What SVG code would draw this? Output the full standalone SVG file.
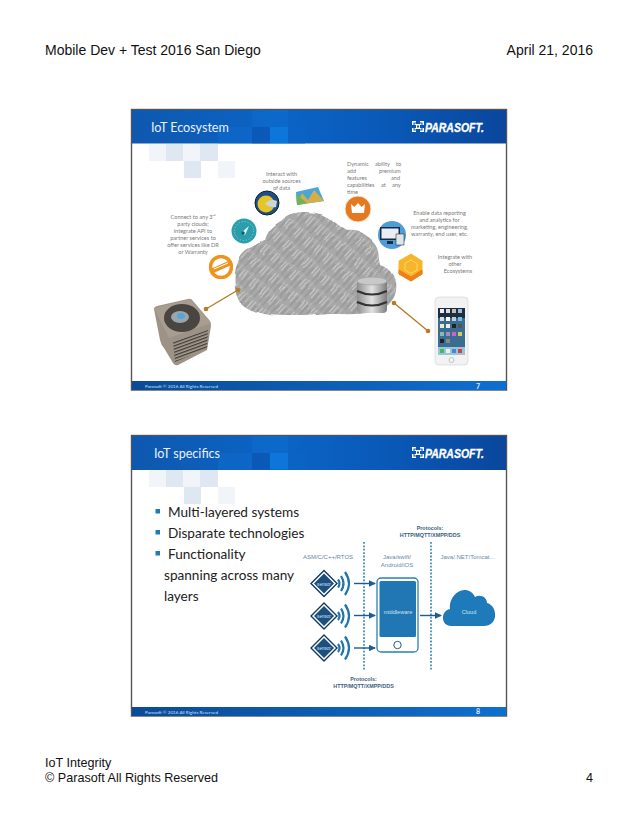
<svg xmlns="http://www.w3.org/2000/svg" width="638" height="826" viewBox="0 0 638 826">
<style>
.page{font-family:"Liberation Sans",Arial,sans-serif;font-size:14px;fill:#111}
.page2{font-family:"Liberation Sans",Arial,sans-serif;font-size:12.6px;fill:#111}
.title{font-family:Lato,sans-serif;font-size:12.6px;fill:#e8f0fa}
.logo{font-family:"Liberation Sans",sans-serif;font-size:13px;font-weight:bold;font-style:italic;fill:#fff;stroke:#fff;stroke-width:.35}
.foot{font-family:Lato,sans-serif;font-size:4.6px;fill:#cfe0f5}
.num{font-family:Lato,sans-serif;font-size:7px;font-weight:bold;fill:#dce9f8;text-anchor:middle}
.small{font-family:Lato,sans-serif;font-size:5.6px;fill:#7a7a7a}
.m{text-anchor:middle}
.bullet{font-family:Lato,sans-serif;font-size:13.6px;fill:#222}
.lab{font-family:"Liberation Sans",sans-serif;font-size:6px;fill:#6a88a6}
.proto{font-family:"Liberation Sans",sans-serif;font-size:5.4px;font-weight:bold;fill:#3b6080}
.wh{font-family:"Liberation Sans",sans-serif;font-size:5.6px;fill:#cfe3f2;text-anchor:middle}
.frame{fill:#fff;stroke:#555;stroke-width:1.4}
.lnk{stroke:#b87a24;stroke-width:1.4;fill:none}
.dot{fill:#b87a24}
.dash{stroke:#2b7fb8;stroke-width:1.6;stroke-dasharray:1.8 1.6;fill:none}
.arr{stroke:#1f5c8c;stroke-width:1.4;fill:none;marker-end:url(#ah)}
.wave{stroke:#1f74ab;stroke-width:2.2;fill:none}
.sq1{fill:#f1f5fa}.sq2{fill:#dfe8f2}
.lg{fill:#fff}
</style>
<defs>
<linearGradient id="hdr2" x1="0" x2="1" y1="0" y2="0"><stop offset="0" stop-color="#0f58ae"/><stop offset=".4" stop-color="#0b64c6"/><stop offset=".7" stop-color="#0a58b6"/><stop offset="1" stop-color="#0a469c"/></linearGradient>
<linearGradient id="ft" x1="0" x2="1"><stop offset="0" stop-color="#0b4a96"/><stop offset="1" stop-color="#0e6fd0"/></linearGradient>
<linearGradient id="can" x1="0" x2="1"><stop offset="0" stop-color="#8f8f8f"/><stop offset=".5" stop-color="#e2e2e2"/><stop offset="1" stop-color="#7d7d7d"/></linearGradient>
<pattern id="hatch" width="13" height="17" patternUnits="userSpaceOnUse" patternTransform="rotate(42)">
<rect width="13" height="17" fill="#a8a8a8"/><rect x="1" y="1" width="1.100" height="12" fill="#c6c6c6"/><rect x="3.500" y="4" width="1" height="13" fill="#8e8e8e"/><rect x="6" width="1" height="9" fill="#bdbdbd"/><rect x="8.500" y="6" width="1.200" height="11" fill="#949494"/><rect x="11" y="2" width=".9" height="10" fill="#cfcfcf"/>
</pattern>
<pattern id="fins" width="4" height="3" patternUnits="userSpaceOnUse" patternTransform="rotate(-20)"><rect width="4" height="3" fill="#a89e92"/><rect width="4" height="1.300" fill="#3f3a35"/></pattern>
<marker id="ah" markerWidth="7" markerHeight="6.400" refX="6" refY="3.200" orient="auto" markerUnits="userSpaceOnUse"><path d="M0 0L7 3.200L0 6.400z" fill="#1f5c8c"/></marker>
<filter id="soft" x="-5%" y="-5%" width="110%" height="110%"><feGaussianBlur stdDeviation=".45"/></filter>
<filter id="sketch" x="-5%" y="-5%" width="110%" height="110%"><feTurbulence type="fractalNoise" baseFrequency=".03" numOctaves="2" seed="4" result="n"/><feDisplacementMap in="SourceGraphic" in2="n" scale="4" xChannelSelector="R" yChannelSelector="G"/><feGaussianBlur stdDeviation=".55"/></filter>
<g id="sensor"><path d="M0-13L13 0L0 13L-13 0z" fill="#fff" stroke="#12395f" stroke-width="1.400"/><path d="M0-10L10 0L0 10L-10 0z" fill="#1c4f7f"/><text class="wh" y="2" style="font-size:4.6px">sensor</text>
<path class="wave" d="M14-4Q17 0 14 4M17-7.500Q22 0 17 7.500M21-11.500Q29 0 21 11.500"/></g>
<g id="hdrdeco"><rect x="218" y="17" width="34" height="16.500" fill="#0e6fd2" opacity=".4"/><rect x="252" y="17" width="18" height="16.500" fill="#0a58b4" opacity=".8"/><rect x="270" y="17" width="18" height="16.500" fill="#0d7ade" opacity=".8"/><rect x="288" y="17" width="17" height="16.500" fill="#0c64c4" opacity=".7"/><rect x="252" width="36" height="17" fill="#0e6ed0" opacity=".45"/></g>
<g id="squares"><rect class="sq1" x="149" y="0" width="17" height="17"/><rect class="sq2" x="166" y="0" width="17" height="17"/><rect class="sq1" x="183" y="0" width="17" height="17"/><rect class="sq2" x="200" y="0" width="18" height="17"/><rect class="sq2" x="184" y="17" width="17" height="17"/><rect class="sq1" x="218" y="17" width="17" height="17"/></g>
<g id="logomark"><path class="lg" d="M0 0H4V1.500H1.500V4H0zM8 0H12V4H10.500V1.500H8zM0 7H1.500V9.500H4V11H0zM10.500 7H12V11H8V9.500H10.500z"/><path class="lg" d="M4 3H8V8H4zM2.500 2.500H4V4H2.500zM8 2.500H9.500V4H8zM2.500 7H4V8.500H2.500zM8 7H9.500V8.500H8z"/><rect x="5" y="4.500" width="2" height="2" fill="#0a52ac"/></g>
</defs>
<rect width="638" height="826" fill="#fff"/>
<text class="page" x="45" y="55">Mobile Dev + Test 2016 San Diego</text>
<text class="page" x="593" y="55" text-anchor="end">April 21, 2016</text>
<text class="page2" x="45" y="767">IoT Integrity</text>
<text class="page2" x="45" y="782">© Parasoft All Rights Reserved</text>
<text class="page2" x="593" y="782" text-anchor="end">4</text>

<g id="slide7">
<rect class="frame" x="131.500" y="109.500" width="375" height="280.500"/>
<use href="#squares" y="144"/>
<rect x="132" y="110" width="374" height="33.500" fill="url(#hdr2)"/>
<use href="#hdrdeco" y="110"/>
<text class="title" x="151" y="132">IoT Ecosystem</text>
<use href="#logomark" x="412" y="121"/>
<text class="logo" x="425" y="131.500" textLength="59" lengthAdjust="spacingAndGlyphs">PARASOFT.</text>
<rect x="132" y="381" width="374" height="9" fill="url(#ft)"/>
<text class="foot" x="145" y="387.500">Parasoft © 2016 All Rights Reserved</text>
<text class="num" x="478" y="388.500">7</text>
</g>
<g id="cloud7"><path filter="url(#sketch)" d="M240 302C233 293 233 272 238 262C240 254 246 249 252 247C256 244 262 242 265 240C268 230 274 225 281 221C288 214 296 212 304 212C314 212 323 214 330 218C337 224 342 228 347 230C354 229 360 231 364 234C372 239 377 244 379 251C380 257 380 261 381 265C387 267 391 270 393 274C396 280 397 286 396 291C394 302 385 310 372 312C360 315 345 314 330 314C310 316 288 317 270 315C258 313 246 309 240 302z" fill="url(#hatch)"/></g>
<g id="db"><g filter="url(#soft)"><rect x="357" y="280" width="30" height="33" rx="4" fill="url(#can)"/><ellipse cx="372" cy="281" rx="15" ry="4" fill="#c8c8c8" stroke="#999" stroke-width=".6"/><path d="M357 291Q372 298 387 291M357 302Q372 309 387 302" stroke="#333" stroke-width="2.200" fill="none"/></g></g>
<g id="connectors7">
<line class="lnk" x1="238" y1="290" x2="206" y2="309"/><circle class="dot" cx="238" cy="290" r="2.300"/><circle class="dot" cx="206" cy="309" r="2.300"/>
<line class="lnk" x1="394" y1="303" x2="428" y2="331"/><circle class="dot" cx="394" cy="303" r="2.300"/><circle class="dot" cx="428" cy="331" r="2.300"/>
</g>
<g id="ac-unit" filter="url(#soft)"><path d="M154 309Q154 307 157 306L188 299Q191 298 193 301L210 321Q211 323 211 326L207 350L178 365Q175 366 173 363L164 348Q161 345 160 340z" fill="#9d9286"/><path d="M154 308L190 299L211 323L169 338z" fill="#a89d91"/><path d="M173 342L208 330L207 348L175 362z" fill="url(#fins)"/><ellipse cx="182" cy="318" rx="18" ry="14" fill="#4a443f"/><ellipse cx="180" cy="317" rx="9" ry="6" fill="#9aa6ad"/><ellipse cx="181" cy="316" rx="4" ry="3" fill="#55a6d8"/></g>
<g id="phone" filter="url(#soft)"><rect x="435" y="297" width="33" height="68" rx="4" fill="#f2f2f2" stroke="#d0d0d0" stroke-width=".6"/><rect x="438" y="308" width="27" height="47" fill="#3a6c92"/><rect x="438" y="308" width="27" height="10" fill="#1f2f40"/><rect x="440" y="309" width="4" height="4" fill="#eee"/><rect x="446" y="309" width="4" height="4" fill="#ddd"/><rect x="452" y="309" width="4" height="4" fill="#cba"/><rect x="458" y="309" width="4" height="4" fill="#9bd"/><rect x="440" y="317" width="4" height="4" fill="#ddd"/><rect x="446" y="317" width="4" height="4" fill="#fff"/><rect x="452" y="317" width="4" height="4" fill="#bcd"/><rect x="458" y="317" width="4" height="4" fill="#7bd"/><rect x="440" y="324" width="4" height="4" fill="#eec"/><rect x="446" y="324" width="4" height="4" fill="#eee"/><rect x="452" y="324" width="4" height="4" fill="#222"/><rect x="458" y="324" width="4" height="4" fill="#555"/><rect x="440" y="332" width="4" height="4" fill="#8ba"/><rect x="446" y="332" width="4" height="4" fill="#a8c"/><rect x="452" y="332" width="4" height="4" fill="#c6b"/><rect x="458" y="332" width="4" height="4" fill="#cc6"/><rect x="440" y="339" width="4" height="4" fill="#222"/><rect x="446" y="339" width="4" height="4" fill="#888"/><rect x="438" y="347" width="27" height="8" fill="#9cc4d8"/><rect x="440" y="349" width="4" height="4" fill="#4b5"/><rect x="446" y="349" width="4" height="4" fill="#eee"/><rect x="452" y="349" width="4" height="4" fill="#48c"/><rect x="458" y="349" width="4" height="4" fill="#c44"/><circle cx="451.500" cy="360" r="2.500" fill="none" stroke="#aaa" stroke-width=".6"/></g>
<g id="icon-weather" filter="url(#soft)"><circle cx="267" cy="203" r="12" fill="#1d4f86" stroke="#122" stroke-width="1"/><circle cx="266" cy="204" r="8.500" fill="#e8c528"/><path d="M265 204Q270 198 277 201L276 207Q270 208 265 204z" fill="#c9d6df"/></g>
<g id="icon-map" filter="url(#soft)"><path d="M296 192L318 187L324 201L297 205z" fill="#4aa6d6"/><path d="M297 205L302 193L308 200L314 190L324 201z" fill="#d6ae48"/><path d="M296 194L297 205L307 203z" fill="#71b35a"/></g>
<g id="icon-crown"><circle cx="358" cy="209" r="13" fill="#e4791f" stroke="#f3e4d5" stroke-width="1"/><path d="M351 204L354.500 207L358 203L361.500 207L365 204L364 213H352z" fill="#fff"/></g>
<g id="icon-report" filter="url(#soft)"><circle cx="392" cy="235" r="14" fill="#4e9dd6"/><rect x="380" y="227" width="20" height="13" fill="#1c2a44"/><rect x="381.500" y="228.500" width="17" height="10" fill="#e8eef4"/><rect x="396" y="234" width="8" height="11" fill="#dde4ea" stroke="#334" stroke-width=".6"/><rect x="387" y="241" width="6" height="3" fill="#1c2a44"/></g>
<g id="icon-compass" filter="url(#soft)"><circle cx="244" cy="231" r="12.500" fill="#2a9fab"/><circle cx="244" cy="231" r="9.500" fill="none" stroke="#bfe5e8" stroke-width=".7" stroke-dasharray="1 2"/><path d="M241 233L249 226L245 235z" fill="#e6f5f6"/><circle cx="243" cy="233" r="1.800" fill="#0f5a66"/></g>
<g id="icon-orange-ring" filter="url(#soft)"><circle cx="221" cy="267" r="10.500" fill="none" stroke="#ef931c" stroke-width="3.500"/><path d="M212 271L230 263" stroke="#ef931c" stroke-width="5"/><path d="M214 269L228 263" stroke="#fff" stroke-width="1"/></g>
<g id="icon-cube" filter="url(#soft)"><path d="M411 254L422 261V274L411 281L399 274V261z" fill="#f7b62a" stroke="#f7b62a" stroke-linejoin="round"/><path d="M399 270L411 277L422 270V274L411 281L399 274z" fill="#ee7f1a" stroke="#ee7f1a" stroke-linejoin="round"/><path d="M411 260L417 263.500V270L411 273.500L405 270V263.500z" fill="none" stroke="#fde08a" stroke-width=".7"/></g>
<g id="labels7">
<text class="small m" x="281.500" y="176">Interact with</text><text class="small m" x="281.500" y="183">outside sources</text><text class="small m" x="281.500" y="190">of data</text>
<text class="small" x="347" y="166">Dynamic</text><text class="small" x="375" y="166">ability</text><text class="small" x="396" y="166">to</text>
<text class="small" x="347" y="173">add</text><text class="small" x="379" y="173">premium</text>
<text class="small" x="347" y="180">features</text><text class="small" x="391" y="180">and</text>
<text class="small" x="347" y="187">capabilities</text><text class="small" x="381" y="187">at</text><text class="small" x="392" y="187">any</text>
<text class="small" x="347" y="194">time</text>
<text class="small m" x="193" y="219">Connect to any 3ʳᵈ</text><text class="small m" x="193" y="226">party clouds;</text><text class="small m" x="193" y="233">integrate API to</text><text class="small m" x="193" y="240">partner services to</text><text class="small m" x="193" y="247">offer services like DR</text><text class="small m" x="193" y="254">or Warranty</text>
<text class="small m" x="439.500" y="215">Enable data reporting</text><text class="small m" x="439.500" y="222">and analytics for</text><text class="small m" x="439.500" y="229">marketing, engineering,</text><text class="small m" x="439.500" y="236">warranty, end user, etc.</text>
<text class="small m" x="455" y="259">Integrate with</text><text class="small m" x="455" y="266">other</text><text class="small m" x="458" y="273">Ecosystems</text>
</g>

<g id="slide8">
<rect class="frame" x="131.500" y="435.500" width="375" height="280.500"/>
<use href="#squares" y="470"/>
<rect x="132" y="436" width="374" height="34" fill="url(#hdr2)"/>
<use href="#hdrdeco" y="436"/>
<text class="title" x="154" y="458">IoT specifics</text>
<use href="#logomark" x="412" y="447"/>
<text class="logo" x="425" y="457.500" textLength="59" lengthAdjust="spacingAndGlyphs">PARASOFT.</text>
<rect x="132" y="707" width="374" height="9" fill="url(#ft)"/>
<text class="foot" x="145" y="713.500">Parasoft © 2016 All Rights Reserved</text>
<text class="num" x="478" y="714">8</text>
<rect x="155.500" y="509" width="4.500" height="4.500" fill="#1f7ab8"/><rect x="155.500" y="530" width="4.500" height="4.500" fill="#1f7ab8"/><rect x="155.500" y="551" width="4.500" height="4.500" fill="#1f7ab8"/>
<text class="bullet" x="168" y="517">Multi-layered systems</text>
<text class="bullet" x="168" y="538">Disparate technologies</text>
<text class="bullet" x="168" y="559">Functionality</text>
<text class="bullet" x="164" y="580">spanning across many</text>
<text class="bullet" x="164" y="601">layers</text>
</g>
<g id="proto-top"><text class="proto m" x="430" y="530">Protocols:</text><text class="proto m" x="430" y="537">HTTP/MQTT/XMPP/DDS</text></g>
<g id="proto-bot"><text class="proto m" x="363.500" y="681">Protocols:</text><text class="proto m" x="363.500" y="688">HTTP/MQTT/XMPP/DDS</text></g>
<text class="lab m" x="328" y="559">ASM/C/C++/RTOS</text>
<text class="lab m" x="397" y="559">Java/swift/</text><text class="lab m" x="397" y="567">Android/iOS</text>
<text class="lab m" x="468" y="559">Java/.NET/Tomcat…</text>
<g id="connectors8">
<line class="dash" x1="364" y1="542" x2="364" y2="671"/>
<line class="dash" x1="431" y1="542" x2="431" y2="671"/>
<line class="arr" x1="354" y1="583.500" x2="375" y2="583.500"/>
<line class="arr" x1="354" y1="615.500" x2="375" y2="615.500"/>
<line class="arr" x1="354" y1="648" x2="375" y2="648"/>
<line class="arr" x1="420" y1="615.500" x2="441" y2="615.500"/>
</g>
<use id="sensor1" href="#sensor" x="324" y="583.500"/>
<use id="sensor2" href="#sensor" x="324" y="616"/>
<use id="sensor3" href="#sensor" x="324" y="648"/>
<g id="device"><rect x="377" y="578" width="41" height="74" rx="4" fill="#fff" stroke="#2b7fb8" stroke-width="1.300"/><rect x="379.500" y="581" width="36.500" height="56" rx="1.500" fill="#2177b4"/><circle cx="397.500" cy="645" r="3.700" fill="none" stroke="#1f5c8c" stroke-width="1"/><text class="wh" x="398" y="614">middleware</text></g>
<g id="cloud8"><path d="M451 626C441 626 440 611 450 609C449 602 453 595 458 592C464 588 472 590 475 597C480 594 487 597 487 603C492 604 496 610 495 617C494 623 489 626 484 626z" fill="#1e7ab8"/><text class="wh" x="469" y="614">Cloud</text></g>
</svg>
